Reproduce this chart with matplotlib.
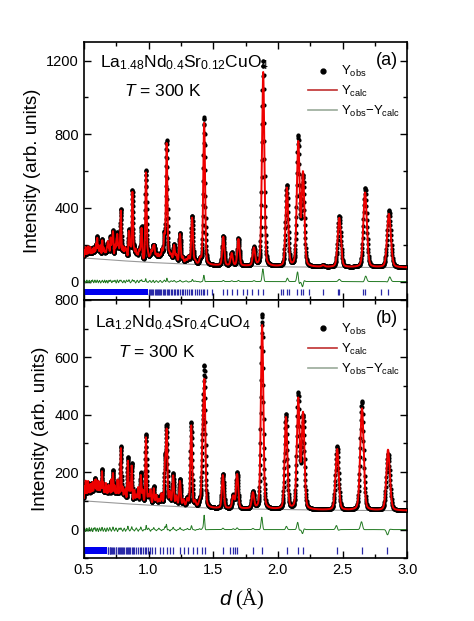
import numpy as np
import matplotlib
matplotlib.use("Agg")
import matplotlib.pyplot as plt
from matplotlib.lines import Line2D

plt.rcParams['font.family'] = ['Liberation Sans', 'DejaVu Sans']
plt.rcParams['mathtext.fontset'] = 'custom'
plt.rcParams['mathtext.rm'] = 'Liberation Sans'
plt.rcParams['mathtext.it'] = 'Liberation Sans:italic'

# ---- panel (a): La1.48Nd0.4Sr0.12CuO4 ----
bg_d = [0.5, 0.75, 1.0, 1.5, 2.0, 2.5, 3.0]
bg_a = [128, 115, 104, 88, 80, 77, 76]
main_a_d = [0.725, 0.786, 0.875, 0.98, 1.14, 1.337, 1.43, 1.578, 1.643, 1.695,
            1.815, 1.886, 2.07, 2.157, 2.195, 2.35, 2.475, 2.675, 2.86]
main_a_h = [150, 270, 380, 495, 660, 260, 800, 160, 70, 150,
            100, 1120, 440, 700, 480, 8, 280, 430, 310]
main_a_dif = [5, 8, 10, 12, 15, 10, 30, 6, 4, 6, 5, 65, 15, 35, -20, 0, 12, 25, 20]
main_a_disp = [0, 0, 0, -10, 10, 5, -15, 0, 0, 0, 0, -20, 10, -40, 20, 0, 0, 15, 15]
minor_a_d = [0.505, 0.514, 0.523, 0.532, 0.541, 0.549, 0.558, 0.567, 0.576, 0.585,
             0.594, 0.603, 0.612, 0.621, 0.630, 0.642, 0.652, 0.660, 0.668, 0.677,
             0.685, 0.694, 0.706, 0.716, 0.740, 0.750, 0.758, 0.768, 0.777, 0.800,
             0.810, 0.820, 0.830, 0.848, 0.860, 0.888, 0.900, 0.912, 0.925, 0.935,
             0.946, 0.995, 1.010, 1.022, 1.035, 1.045, 1.060, 1.075, 1.090, 1.105,
             1.122, 1.160, 1.175, 1.197, 1.215, 1.243, 1.265, 1.290, 1.310, 1.360,
             1.400]
minor_a_h = [45, 50, 40, 55, 45, 50, 42, 55, 48, 60,
             70, 115, 60, 55, 60, 105, 50, 40, 30, 60,
             80, 70, 120, 85, 80, 70, 135, 60, 50, 60,
             45, 55, 60, 165, 70, 60, 50, 40, 45, 50,
             185, 40, 30, 50, 75, 70, 45, 35, 40, 60,
             145, 40, 45, 100, 40, 165, 30, 25, 35, 20,
             25]
minor_a_dif = [6, -7, 8, -6, 7, -8, 6, 9, -7, 8,
               -6, 8, -7, 6, -8, 7, -6, 8, -7, 6,
               -8, 7, 8, -6, 7, -8, 9, -6, 7, -7,
               6, -7, 8, 10, -7, 6, -8, 7, -6, 7,
               10, -5, 6, -5, 7, -6, 5, -5, 6, -5,
               8, -4, 4, 6, -4, 7, -3, 4, -3, 3,
               -3]
ticks_a_solid = (0.5, 0.995)
ticks_a = [1.003, 1.012, 1.020, 1.028, 1.036, 1.047, 1.056, 1.064, 1.072, 1.083,
           1.092, 1.100, 1.112, 1.122, 1.130, 1.140, 1.150, 1.162, 1.172, 1.185,
           1.195, 1.205, 1.218, 1.230, 1.243, 1.255, 1.268, 1.280, 1.295, 1.310,
           1.325, 1.338, 1.360, 1.375, 1.390, 1.405, 1.420, 1.432, 1.455, 1.490,
           1.578, 1.604, 1.643, 1.682, 1.727, 1.760, 1.798, 1.849, 1.883, 2.022,
           2.043, 2.069, 2.087, 2.146, 2.180, 2.197, 2.241, 2.352, 2.463, 2.476,
           2.662, 2.675, 2.799, 2.850]

# ---- panel (b): La1.2Nd0.4Sr0.4CuO4 ----
bg_b = [100, 92, 85, 74, 70, 67, 66]
main_b_d = [0.786, 0.98, 1.14, 1.33, 1.418, 1.432, 1.575, 1.655, 1.685, 1.807,
            1.878, 2.063, 2.157, 2.195, 2.458, 2.65, 2.853]
main_b_h = [195, 245, 270, 295, 210, 460, 120, 45, 125, 58,
            680, 330, 400, 320, 222, 380, 196]
main_b_dif = [6, 12, 15, 12, 5, 45, 5, 3, 6, 4, 40, 10, 20, -10, 10, 25, -15]
main_b_disp = [0, 8, -10, 6, 0, -20, 0, 0, 0, 0, -15, 5, -15, 10, -10, -10, 10]
minor_b_d = [0.505, 0.514, 0.523, 0.532, 0.541, 0.550, 0.559, 0.568, 0.577, 0.585,
             0.594, 0.603, 0.612, 0.621, 0.630, 0.640, 0.650, 0.660, 0.670, 0.680,
             0.690, 0.700, 0.712, 0.725, 0.737, 0.748, 0.760, 0.772, 0.800, 0.812,
             0.822, 0.840, 0.855, 0.870, 0.890, 0.905, 0.920, 0.940, 0.955, 1.000,
             1.015, 1.040, 1.060, 1.080, 1.100, 1.127, 1.165, 1.190, 1.215, 1.243,
             1.270, 1.300, 1.360, 1.395]
minor_b_h = [55, 60, 50, 60, 55, 50, 60, 55, 60, 75,
             65, 55, 60, 50, 55, 110, 55, 45, 55, 40,
             50, 60, 70, 108, 50, 45, 70, 40, 45, 35,
             40, 158, 60, 140, 40, 35, 50, 108, 40, 35,
             45, 64, 30, 25, 35, 140, 40, 112, 30, 94,
             20, 30, 15, 20]
minor_b_dif = [6, -7, 5, -6, 7, -5, 6, -7, 5, 7,
               -6, 5, -7, 6, -5, 8, -6, 5, -7, 6,
               -5, 7, -6, 9, -5, 6, -7, 5, -6, 5,
               -6, 12, -5, 10, -5, 6, -6, 9, -5, 5,
               -6, 7, -4, 5, -4, 10, -5, 8, -4, 7,
               -3, 4, -3, 3]
ticks_b_solid = (0.5, 0.675)
ticks_b = [0.683, 0.690, 0.698, 0.705, 0.712, 0.720, 0.727, 0.735, 0.745, 0.752,
           0.760, 0.768, 0.776, 0.786, 0.795, 0.803, 0.812, 0.822, 0.832, 0.840,
           0.850, 0.860, 0.870, 0.880, 0.890, 0.905, 0.915, 0.930, 0.940, 0.955,
           0.970, 0.980, 0.995, 1.010, 1.024, 1.050, 1.088, 1.114, 1.145, 1.166,
           1.191, 1.243, 1.274, 1.307, 1.346, 1.372, 1.411, 1.437, 1.578, 1.630,
           1.651, 1.669, 1.687, 1.806, 1.875, 2.069, 2.159, 2.197, 2.456, 2.649,
           2.843]


def pseudo_voigt(x, c, h, eta=0.25):
    fw = 0.0115 * c
    u = (x - c) / fw
    return h * ((1 - eta) * np.exp(-4 * np.log(2) * u ** 2) + eta / (1 + 4 * u ** 2))


def diff_shape(x, c, a, b):
    s = 0.4 * 0.0115 * c
    u = (x - c) / s
    return a * np.exp(-u ** 2) + 1.6 * b * u * np.exp(-u ** 2)


def build(x, bg, md, mh, mdif, mdisp, nd, nh, ndif):
    # obs is built from the peak heights, calc = obs - diff
    back = np.interp(x, bg_d, bg)
    obs = back.copy()
    diff = np.zeros_like(x)
    for c, h, a, b in zip(md, mh, mdif, mdisp):
        obs += pseudo_voigt(x, c, h)
        diff += diff_shape(x, c, a, b)
    for c, h, a in zip(nd, nh, ndif):
        obs += pseudo_voigt(x, c, h)
        diff += diff_shape(x, c, a, 0)
    return back, obs - diff, obs, diff


def draw_panel(ax, back, calc, obs, diff, solid, ticks, tick_lo, tick_hi):
    ax.plot(x, obs, 'o', color='black', ms=3.0, mew=0, zorder=2)
    ax.plot(x, calc, color='#ee0000', lw=1.4, zorder=3)
    ax.plot(x, back, color='#999999', lw=0.8, zorder=1)
    ax.plot(x, diff, color='#227a22', lw=0.7, zorder=2)
    ax.fill_between(solid, tick_lo, tick_hi, color='#0000ee', lw=0, zorder=2)
    ax.vlines(ticks, tick_lo, tick_hi, color='#2a2aa8', lw=0.9, zorder=2)
    ax.set_xlim(0.5, 3.0)
    ax.xaxis.set_major_locator(plt.MultipleLocator(0.5))
    ax.xaxis.set_minor_locator(plt.MultipleLocator(0.25))
    ax.tick_params(which='both', direction='in', top=True, right=True,
                   labelsize=10.5, width=1.0)
    ax.tick_params(which='major', length=5)
    ax.tick_params(which='minor', length=3)
    for sp in ax.spines.values():
        sp.set_linewidth(1.2)
    ax.set_ylabel('Intensity (arb. units)', fontsize=13.5)


def add_legend(ax, anchor):
    handles = [Line2D([], [], marker='o', ls='none', color='black', ms=3.5),
               Line2D([], [], color='#c03030', lw=1.2),
               Line2D([], [], color='#9aaa9a', lw=1.2)]
    labels = ['Y$_{\\rm obs}$', 'Y$_{\\rm calc}$', 'Y$_{\\rm obs}$$-$Y$_{\\rm calc}$']
    ax.legend(handles, labels, loc='upper right', bbox_to_anchor=anchor,
              frameon=False, fontsize=9.5, handlelength=2.2, handletextpad=0.3,
              labelspacing=0.35, borderaxespad=0)


x = np.geomspace(0.5, 3.0, 2400)

fig = plt.figure(figsize=(4.74, 6.21), dpi=100)
ax1 = fig.add_axes([0.177, 0.517, 0.682, 0.415])
ax2 = fig.add_axes([0.177, 0.101, 0.682, 0.416], sharex=ax1)

back, calc, obs, diff = build(x, bg_a, main_a_d, main_a_h, main_a_dif, main_a_disp,
                              minor_a_d, minor_a_h, minor_a_dif)
draw_panel(ax1, back, calc, obs, diff, ticks_a_solid, ticks_a, -74, -42)
ax1.set_ylim(-100, 1300)
ax1.yaxis.set_major_locator(plt.MultipleLocator(400))
ax1.yaxis.set_minor_locator(plt.MultipleLocator(200))
ax1.tick_params(labelbottom=False)
ax1.text(0.05, 0.919, 'La$_{1.48}$Nd$_{0.4}$Sr$_{0.12}$CuO$_4$', transform=ax1.transAxes,
         fontsize=12.5, va='center')
ax1.text(0.124, 0.81, '$T$ = 300 K', transform=ax1.transAxes, fontsize=12.5, va='center')
ax1.text(0.938, 0.93, '(a)', transform=ax1.transAxes, fontsize=13, ha='center', va='center')
add_legend(ax1, (0.995, 0.935))

back, calc, obs, diff = build(x, bg_b, main_b_d, main_b_h, main_b_dif, main_b_disp,
                              minor_b_d, minor_b_h, minor_b_dif)
draw_panel(ax2, back, calc, obs, diff, ticks_b_solid, ticks_b, -84, -60)
ax2.set_ylim(-100, 800)
ax2.yaxis.set_major_locator(plt.MultipleLocator(200))
ax2.yaxis.set_minor_locator(plt.MultipleLocator(100))
ax2.text(0.034, 0.911, 'La$_{1.2}$Nd$_{0.4}$Sr$_{0.4}$CuO$_4$', transform=ax2.transAxes,
         fontsize=12.5, va='center')
ax2.text(0.105, 0.798, '$T$ = 300 K', transform=ax2.transAxes, fontsize=12.5, va='center')
ax2.text(0.938, 0.93, '(b)', transform=ax2.transAxes, fontsize=13, ha='center', va='center')
add_legend(ax2, (0.995, 0.935))

# x label: italic d plus a serif "(Å)", as in the original
fig.text(0.487, 0.034, 'd', style='italic', fontsize=15, ha='right', va='center')
fig.text(0.497, 0.034, '(Å)', family='Liberation Serif', fontsize=15, ha='left', va='center')

fig.savefig('out.png', dpi=100)
